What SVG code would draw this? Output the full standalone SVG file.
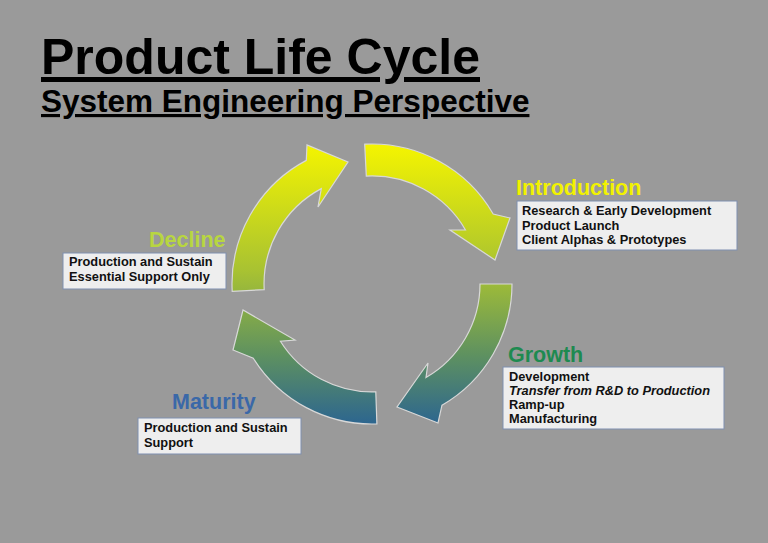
<svg xmlns="http://www.w3.org/2000/svg" width="768" height="543" viewBox="0 0 768 543">
<style>
text{font-family:"Liberation Sans",Arial,sans-serif;font-weight:bold}
.b{font-size:12.8px;fill:#111}
.h{font-size:21.5px}
.box{fill:#eeeeee;stroke:#7f8fb0;stroke-width:1}
.arr{fill:url(#g);stroke:#d8d8d8;stroke-width:1.2}
</style>
<defs>
<linearGradient id="g" gradientUnits="userSpaceOnUse" x1="0" y1="145" x2="0" y2="425">
<stop offset="0" stop-color="#f4f400"/>
<stop offset="0.45" stop-color="#a8c232"/>
<stop offset="0.75" stop-color="#5e9160"/>
<stop offset="1" stop-color="#2c6590"/>
</linearGradient>
</defs>
<rect width="768" height="543" fill="#9a9a9a"/>
<g id="title">
<text x="41" y="74" font-size="50" text-decoration="underline" fill="#000">Product Life Cycle</text>
<text x="41" y="112" font-size="31.5" text-decoration="underline" fill="#000">System Engineering Perspective</text>
</g>
<g id="connectors">
<path class="arr" d="M364.7,144.2 A140 140 0 0 1 493.2,214 L510,218 L495,260 L450,230 L465.5,230 A108 108 0 0 0 366.3,176.1 Z"/>
<path class="arr" d="M512,284 A140 140 0 0 1 442,405.2 L438,423 L397,407 L428,363 L426,377.5 A108 108 0 0 0 480,284 Z"/>
<path class="arr" d="M376.9,423.9 A140 140 0 0 1 253.3,358.2 L233,350 L243,310 L295,340 L280.4,341.2 A108 108 0 0 0 375.8,391.9 Z"/>
<path class="arr" d="M232.2,291.3 A140 140 0 0 1 306.3,160.4 L307,145 L348,162 L318,207 L321.3,188.6 A108 108 0 0 0 264.2,289.6 Z"/>
</g>
<g id="introduction">
<text class="h" x="516" y="195" fill="#f2f200">Introduction</text>
<rect class="box" x="517" y="201" width="220" height="49"/>
<text class="b" x="522" y="215">Research &amp; Early Development</text>
<text class="b" x="522" y="230">Product Launch</text>
<text class="b" x="522" y="244">Client Alphas &amp; Prototypes</text>
</g>
<g id="growth">
<text class="h" x="508" y="362" fill="#1e8a50">Growth</text>
<rect class="box" x="503" y="367" width="221" height="62"/>
<text class="b" x="509" y="381">Development</text>
<text class="b" x="509" y="395" font-style="italic">Transfer from R&amp;D to Production</text>
<text class="b" x="509" y="409">Ramp-up</text>
<text class="b" x="509" y="423">Manufacturing</text>
</g>
<g id="maturity">
<text class="h" x="172" y="409" fill="#3a68a8">Maturity</text>
<rect class="box" x="138" y="418" width="163" height="36"/>
<text class="b" x="144" y="432">Production and Sustain</text>
<text class="b" x="144" y="447">Support</text>
</g>
<g id="decline">
<text class="h" x="149" y="247" fill="#b8d640">Decline</text>
<rect class="box" x="63" y="253" width="163" height="36"/>
<text class="b" x="69" y="266">Production and Sustain</text>
<text class="b" x="69" y="281">Essential Support Only</text>
</g>
</svg>
